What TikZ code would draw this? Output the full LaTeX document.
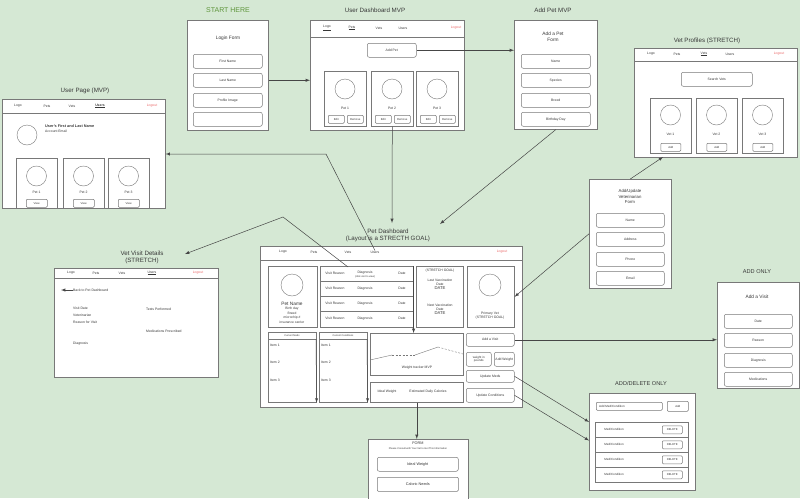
\documentclass[tikz,border=0pt]{standalone}
\usepackage{fontspec}
\setmainfont{Liberation Sans}
\usetikzlibrary{arrows}
\usetikzlibrary{positioning}

\definecolor{bg}{RGB}{213,232,212}
\definecolor{edge}{RGB}{120,120,120}
\definecolor{wire}{RGB}{70,70,70}
\definecolor{ink}{RGB}{55,55,55}
\definecolor{logoutred}{RGB}{235,105,105}
\definecolor{startgreen}{RGB}{95,150,60}

\tikzset{
  panel/.style={draw=edge, fill=white, line width=.6pt, anchor=north west, inner sep=0pt},
  fld/.style={draw=edge, fill=white, line width=.5pt, rounded corners=2pt, anchor=north west,
    inner sep=0pt, text=ink, font=\fontsize{3.4}{4}\selectfont},
  btn/.style={fld, rounded corners=1pt, font=\fontsize{2.8}{3.2}\selectfont},
  ttl/.style={inner sep=0pt, text=ink, align=center, font=\fontsize{6.2}{7}\selectfont},
  sub/.style={inner sep=0pt, text=ink, align=center, font=\fontsize{4.8}{5.6}\selectfont},
  lbl/.style={inner sep=0pt, text=ink, align=center, font=\fontsize{3.4}{4.3}\selectfont},
  tiny/.style={inner sep=0pt, text=ink, align=center, font=\fontsize{2.5}{3}\selectfont},
  logout/.style={lbl, text=logoutred},
  conn/.style={draw=wire, line width=.5pt, -latex},
}

\begin{document}
\begin{tikzpicture}[x=1pt,y=-1pt]
\fill[bg] (0,0) rectangle (800,498);
\useasboundingbox (0,0) rectangle (800,498);

% login form
\node[ttl, text=startgreen, font=\fontsize{7}{8}\selectfont] (start) at (228,10) {START HERE};
\node[panel, minimum width=81, minimum height=110] (login) at (187,20) {};
\node[sub] (loginT) at (228,38) {Login Form};
\node[fld, minimum width=69, minimum height=14] (lgFirst) at (193,54) {First Name};
\node[fld, minimum width=69, minimum height=14] (lgLast) at (193,73) {Last Name};
\node[fld, minimum width=69, minimum height=14] (lgImg) at (193,93) {Profile Image};
\node[fld, minimum width=69, minimum height=14] (lgEmpty) at (193,112) {};

% user dashboard
\node[ttl] (udT) at (375,10) {User Dashboard MVP};
\node[panel, minimum width=154, minimum height=110] (ud) at (310,20) {};
\draw[edge, line width=.6pt] (310,37) -- (464,37);
\node[lbl] (udLogo) at (327,28) {\underline{Logo}};
\node[lbl] (udPets) at (352,28) {\underline{Pets}};
\node[lbl] (udVets) at (379,28) {Vets};
\node[lbl] (udUsers) at (403,28) {Users};
\node[logout] (udOut) at (456,28) {Logout};
\node[fld, minimum width=49, minimum height=14] (udAdd) at (367,43) {Add Pet};
\foreach \x/\n in {324/1,371/2,416/3} {
  \node[panel, minimum width=42, minimum height=55] (udPet\n) at (\x,71) {};
  \draw[edge] (\x+21,89) circle[radius=10];
  \node[lbl] (udPetL\n) at (\x+21,108) {Pet \n};
  \node[btn, minimum width=16, minimum height=8] (udEdit\n) at (\x+4,115) {Edit};
  \node[btn, minimum width=16, minimum height=8] (udRem\n) at (\x+23,115) {Remove};
}

% add pet form
\node[ttl] (apT) at (553,10) {Add Pet MVP};
\node[panel, minimum width=83, minimum height=109] (ap) at (514,20) {};
\node[sub] (apForm) at (553,37) {Add a Pet\\Form};
\node[fld, minimum width=69, minimum height=14] (apName) at (521,54) {Name};
\node[fld, minimum width=69, minimum height=14] (apSpecies) at (521,73) {Species};
\node[fld, minimum width=69, minimum height=14] (apBreed) at (521,93) {Breed};
\node[fld, minimum width=69, minimum height=14] (apBday) at (521,112) {Birthday Day};

% vet profiles
\node[ttl] (vpT) at (707,41) {Vet Profiles (STRETCH)};
\node[panel, minimum width=163, minimum height=109] (vp) at (634,48) {};
\draw[edge, line width=.6pt] (634,61) -- (797,61);
\node[lbl] (vpLogo) at (651,54) {Logo};
\node[lbl] (vpPets) at (677,54) {Pets};
\node[lbl] (vpVets) at (704,54) {\underline{Vets}};
\node[lbl] (vpUsers) at (730,54) {Users};
\node[logout] (vpOut) at (779,54) {Logout};
\node[fld, minimum width=71, minimum height=14] (vpSearch) at (681,72) {Search Vets};
\foreach \x/\n in {650/1,696/2,742/3} {
  \node[panel, minimum width=41, minimum height=55] (vpVet\n) at (\x,98) {};
  \draw[edge] (\x+20.5,115) circle[radius=10];
  \node[lbl] (vpVetL\n) at (\x+20.5,134) {Vet \n};
  \node[btn, minimum width=20, minimum height=8] (vpAdd\n) at (\x+10.5,143) {Add};
}

% user page
\node[ttl] (upT) at (85,91) {User Page (MVP)};
\node[panel, minimum width=163, minimum height=109] (up) at (2,99) {};
\draw[edge, line width=.6pt] (2,113) -- (165,113);
\node[lbl] (upLogo) at (18,106) {Logo};
\node[lbl] (upPets) at (47,106) {Pets};
\node[lbl] (upVets) at (72,106) {Vets};
\node[lbl] (upUsers) at (100,106) {\underline{\textbf{Users}}};
\node[logout] (upOut) at (152,106) {Logout};
\draw[edge] (27,135) circle[radius=10];
\node[lbl, anchor=west, font=\bfseries\fontsize{3.8}{4.4}\selectfont] (upName) at (45,126) {User's First and Last Name};
\node[lbl, anchor=west] (upMail) at (45,131) {Account Email};
\foreach \x/\n in {16/1,63/2,108/3} {
  \node[panel, minimum width=41, minimum height=50] (upPet\n) at (\x,158) {};
  \draw[edge] (\x+20.5,176) circle[radius=10];
  \node[lbl] (upPetL\n) at (\x+20.5,192) {Pet \n};
  \node[btn, minimum width=21, minimum height=8] (upView\n) at (\x+10,199) {View};
}

% pet dashboard
\node[ttl] (pdT) at (388,235.5) {Pet Dashboard\\(Layout is a STRECTH GOAL)};
\node[panel, minimum width=262, minimum height=161] (pd) at (260,246) {};
\draw[edge, line width=.6pt] (260,260) -- (522,260);
\node[lbl] (pdLogo) at (283,252) {Logo};
\node[lbl] (pdPets) at (314,252) {Pets};
\node[lbl] (pdVets) at (348,252) {Vets};
\node[lbl] (pdUsers) at (375,252) {Users};
\node[logout] (pdOut) at (502,252) {Logout};

\node[panel, minimum width=49, minimum height=61] (pp) at (268,266) {};
\draw[edge] (292,285) circle[radius=11];
\node[sub] (ppName) at (292,304) {Pet Name};
\node[lbl, font=\fontsize{3.3}{4.6}\selectfont] (ppInfo) at (292,315.5) {Birth day\\Breed\\microchip \#\\insurance carrier};

\node[panel, minimum width=93, minimum height=61] (vt) at (320,266) {};
\draw[edge] (320,281) -- (413,281);
\draw[edge] (320,296) -- (413,296);
\draw[edge] (320,311) -- (413,311);
\node[lbl] (vr1) at (335,273) {Visit Reason};
\node[lbl] (dg1) at (365,272.5) {Diagnosis};
\node[tiny] (dg1c) at (365,276.5) {(click visit to view)};
\node[lbl] (dt1) at (402,273) {Date};
\foreach \y/\n in {288.5/2,303.5/3,318.5/4} {
  \node[lbl] (vr\n) at (335,\y) {Visit Reason};
  \node[lbl] (dg\n) at (365,\y) {Diagnosis};
  \node[lbl] (dt\n) at (402,\y) {Date};
}

\node[panel, minimum width=47, minimum height=61] (sg) at (416,266) {};
\node[lbl] (sgT) at (440,270.5) {(STRETCH GOAL)};
\node[lbl, font=\fontsize{3.4}{4}\selectfont] (sgLast) at (440,284.5) {Last Vaccination\\Date\\\fontsize{4.2}{4.6}\selectfont DATE};
\node[lbl, font=\fontsize{3.4}{4}\selectfont] (sgNext) at (440,309.5) {Next Vaccination\\Date\\\fontsize{4.2}{4.6}\selectfont DATE};

\node[panel, minimum width=47, minimum height=61] (pv) at (467,266) {};
\draw[edge] (490,285) circle[radius=11];
\node[lbl] (pvT) at (490,315.5) {Primary Vet\\(STRETCH GOAL)};

\node[panel, minimum width=48, minimum height=70] (meds) at (268,332) {};
\draw[edge] (268,339) -- (316,339);
\node[tiny] (medsT) at (292,335.5) {Current Meds};
\node[lbl, anchor=west] (medsI1) at (270,345) {Item 1};
\node[lbl, anchor=west] (medsI2) at (270,362) {Item 2};
\node[lbl, anchor=west] (medsI3) at (270,380) {Item 3};
\coordinate (medsH) at (316,339);

\node[panel, minimum width=48, minimum height=70] (cond) at (319,332) {};
\draw[edge] (319,339) -- (367,339);
\node[tiny] (condT) at (343,335.5) {Current Conditions};
\node[lbl, anchor=west] (condI1) at (321,345) {Item 1};
\node[lbl, anchor=west] (condI2) at (321,362) {Item 2};
\node[lbl, anchor=west] (condI3) at (321,380) {Item 3};
\coordinate (condH) at (367,339);

\node[panel, minimum width=93, minimum height=42] (wt) at (370,333) {};
\draw[edge] (370,360) -- (392,355);
\draw[edge, dash pattern=on 2pt off 1.5pt] (392,355) -- (415,355);
\draw[edge] (415,355) -- (438,347);
\draw[edge, dash pattern=on 2pt off 1.5pt] (438,347) -- (463,354);
\node[lbl] (wtT) at (417,368) {Weight tracker MVP};

\node[panel, minimum width=93, minimum height=20] (iw) at (370,382) {};
\node[lbl] (iwW) at (387,392) {Ideal Weight};
\node[lbl] (iwC) at (428,392) {Estimated Daily Calories};

\node[fld, minimum width=48, minimum height=13] (btnVisit) at (466,333) {Add a Visit};
\node[fld, minimum width=25, minimum height=14, font=\fontsize{3}{3.6}\selectfont, align=center] (btnPounds) at (466,352) {weight in\\pounds};
\node[fld, minimum width=20, minimum height=14] (btnWeight) at (494,352) {Add Weight};
\node[fld, minimum width=48, minimum height=12] (btnMeds) at (466,370) {Update Meds};
\node[fld, minimum width=48, minimum height=14] (btnCond) at (466,388) {Update Conditions};

% vet visit details
\node[ttl] (vvT) at (142,257.5) {Vet Visit Details\\(STRETCH)};
\node[panel, minimum width=164, minimum height=109] (vv) at (54,268) {};
\draw[edge, line width=.6pt] (54,278) -- (218,278);
\node[lbl] (vvLogo) at (71,273) {Logo};
\node[lbl] (vvPets) at (96,273) {Pets};
\node[lbl] (vvVets) at (122,273) {Vets};
\node[lbl] (vvUsers) at (152,273) {\underline{Users}};
\node[logout] (vvOut) at (198,273) {Logout};
\node[lbl, anchor=west] (vvBack) at (73,290) {Back to Pet Dashboard};
\coordinate (vvBackTip) at (61,290);
\node[lbl, anchor=west] (vvDate) at (73,308) {Visit Date};
\node[lbl, anchor=west] (vvVet) at (73,315) {Veterinarian};
\node[lbl, anchor=west] (vvReason) at (73,322.5) {Reason for Visit};
\node[lbl, anchor=west] (vvDiag) at (73,344) {Diagnosis};
\node[lbl, anchor=west] (vvTests) at (146,309) {Tests Performed};
\node[lbl, anchor=west] (vvMeds) at (146,331) {Medications Prescribed};

% add / update vet form
\node[panel, minimum width=82, minimum height=109] (vf) at (589,179) {};
\node[lbl, font=\fontsize{4.3}{5.4}\selectfont] (vfT) at (630,196.5) {Add/Update\\Veterinarian\\Form};
\node[fld, minimum width=68, minimum height=14] (vfName) at (596,213) {Name};
\node[fld, minimum width=68, minimum height=14] (vfAddr) at (596,232) {Address};
\node[fld, minimum width=68, minimum height=14] (vfPhone) at (596,252) {Phone};
\node[fld, minimum width=68, minimum height=14] (vfMail) at (596,271) {Email};

% add only
\node[ttl, font=\fontsize{5.6}{6.4}\selectfont] (aoT) at (757,272) {ADD ONLY};
\node[panel, minimum width=82, minimum height=106] (ao) at (717,282) {};
\node[sub] (aoForm) at (757,297) {Add a Visit};
\node[fld, minimum width=68, minimum height=14] (aoDate) at (724,314) {Date};
\node[fld, minimum width=68, minimum height=14] (aoReason) at (724,333) {Reason};
\node[fld, minimum width=68, minimum height=14] (aoDiag) at (724,353) {Diagnosis};
\node[fld, minimum width=68, minimum height=14] (aoMeds) at (724,372) {Medications};

% add / delete only
\node[ttl, font=\fontsize{5.6}{6.4}\selectfont] (adT) at (641,383) {ADD/DELETE ONLY};
\node[panel, minimum width=106, minimum height=97] (ad) at (589,393) {};
\node[btn, minimum width=66, minimum height=8] (adInput) at (596,402) {};
\node[lbl, anchor=west, font=\fontsize{3}{3.6}\selectfont] (adInputT) at (599,406) {Add Med/Condition};
\node[btn, minimum width=21, minimum height=10] (adAdd) at (667,401) {Add};
\node[panel, minimum width=93, minimum height=60] (adList) at (595,422) {};
\draw[edge] (595,437) -- (688,437);
\draw[edge] (595,452) -- (688,452);
\draw[edge] (595,467) -- (688,467);
\foreach \y/\n in {429.5/1,444.5/2,459.5/3,474.5/4} {
  \node[lbl, font=\fontsize{3}{3.6}\selectfont] (adRow\n) at (614,\y) {Med/Condition};
  \node[btn, minimum width=20, minimum height=8] (adDel\n) at (662,\y-4) {DELETE};
}

% form
\node[panel, minimum width=100, minimum height=60] (form) at (368,439) {};
\node[lbl, font=\fontsize{3.8}{4.4}\selectfont] (formT) at (418,443.5) {FORM};
\node[tiny] (formNote) at (418,449) {Please Consult with Your Vet to Get This Information};
\node[fld, minimum width=81, minimum height=14, font=\fontsize{3.8}{4.4}\selectfont] (formW) at (377,457) {Ideal Weight};
\node[fld, minimum width=81, minimum height=14, rounded corners=1pt, font=\fontsize{3.8}{4.4}\selectfont] (formC) at (377,477) {Caloric Needs};

% connectors
\coordinate (pdInA) at (392,223);
\coordinate (pdInB) at (440,224);
\coordinate (bendU) at (326,154);
\coordinate (bendV) at (283,217);
\coordinate (vrTap) at (348,267);
\coordinate (vvIn) at (185,254);
\coordinate (vpIn) at (663,157);

\draw[conn] (login.east |- lgLast) -- (ud.west |- lgLast);
\draw[conn] (udAdd.east) -- (ap.west |- udAdd.east);
\draw[conn] (udPet2.south) -- (pdInA);
\draw[conn] (ap.south) -- (pdInB);
\draw[conn] (pdUsers.north) -- (bendU) -- (up.east |- bendU);
\draw[conn] (vrTap) -- (bendV) -- (vvIn);
\draw[conn] (vf.north) -- (vpIn);
\draw[conn] (vf.west) -- (pv.east);
\draw[conn] (btnVisit.east) -- (ao.west |- btnVisit.east);
\draw[conn] (btnMeds.east) -- (ad.west |- adList.north);
\draw[conn] (btnCond.east) -- (ad.west |- adDel2.north);
\draw[conn] (iw.south) -- (iw.south |- form.north);
\draw[conn] (vt.north east) -- (vt.north east |- wt.north);
\draw[conn] (medsH) -- (meds.south east);
\draw[conn] (condH) -- (cond.south east);
\draw[conn] (vvBack.west) -- (vvBackTip);
\end{tikzpicture}
\end{document}
